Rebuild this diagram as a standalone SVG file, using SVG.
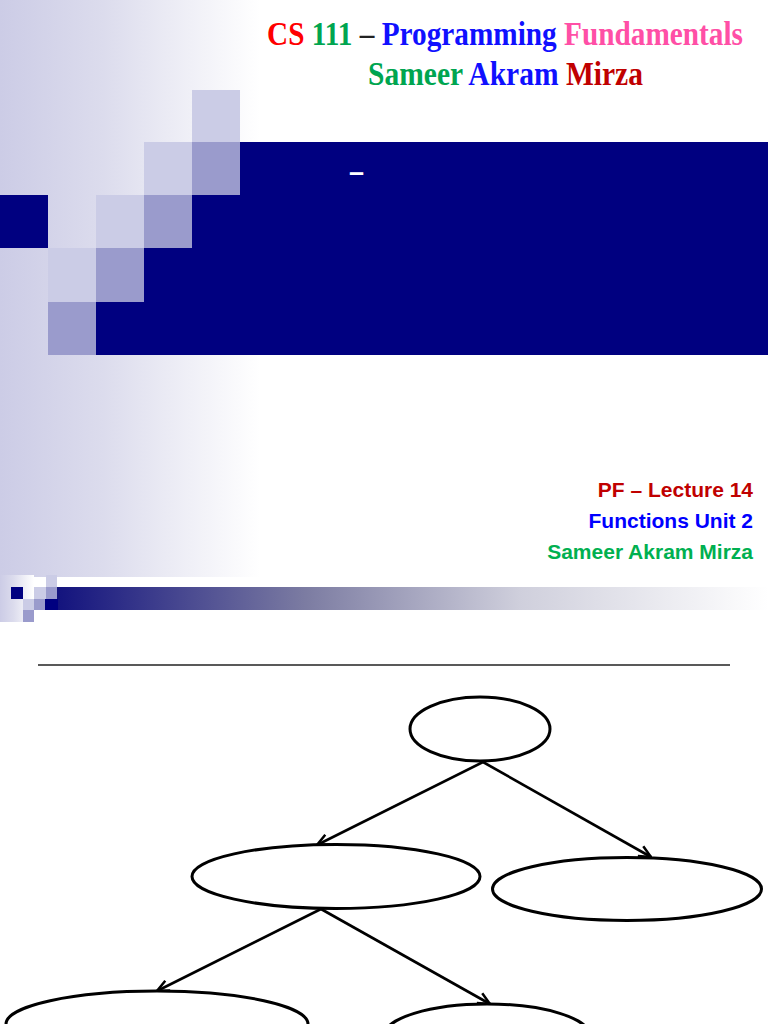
<svg xmlns="http://www.w3.org/2000/svg" width="768" height="1024" viewBox="0 0 768 1024">
<style>
.lt{fill:#cbcce6}
.md{fill:#9a9bcc}
.nv{fill:#000080}
.node{fill:#ffffff;stroke:#000000;stroke-width:3}
.edge{stroke:#000000;stroke-width:2.6;fill:none;marker-end:url(#arr)}
.title{font-family:"Liberation Serif","DejaVu Serif",serif;font-weight:bold;font-size:33px}
.info{font-family:"Liberation Sans",Arial,sans-serif;font-weight:bold;font-size:21px;text-anchor:end}
</style>
<defs>
<linearGradient id="bgL" x1="0" y1="0" x2="1" y2="0">
<stop offset="0" stop-color="#cccce6"/>
<stop offset="0.4" stop-color="#dcdced"/>
<stop offset="0.7" stop-color="#eeeef6"/>
<stop offset="1" stop-color="#ffffff"/>
</linearGradient>
<linearGradient id="bar" x1="0" y1="0" x2="1" y2="0">
<stop offset="0" stop-color="#13137e"/>
<stop offset="0.35" stop-color="#7c7ca2"/>
<stop offset="0.65" stop-color="#cfcfdc"/>
<stop offset="1" stop-color="#ffffff"/>
</linearGradient>
<marker id="arr" markerUnits="userSpaceOnUse" markerWidth="14" markerHeight="14" viewBox="0 0 14 14" refX="13" refY="7" orient="auto">
<path d="M1,1.5 L13,7 L1,12.5" fill="none" stroke="#000000" stroke-width="2.5"/>
</marker>
</defs>
<rect width="768" height="1024" fill="#ffffff"/>
<rect x="0" y="0" width="260" height="577" fill="url(#bgL)"/>
<!-- top pattern -->
<polygon class="nv" points="240,142 768,142 768,355 96,355 96,302 144,302 144,248 192,248 192,195 240,195"/>
<rect class="nv" x="0" y="195" width="48" height="53"/>
<rect class="lt" x="192" y="90" width="48" height="52"/>
<rect class="lt" x="144" y="142" width="48" height="53"/>
<rect class="lt" x="96" y="195" width="48" height="53"/>
<rect class="lt" x="48" y="248" width="48" height="54"/>
<rect class="md" x="192" y="142" width="48" height="53"/>
<rect class="md" x="144" y="195" width="48" height="53"/>
<rect class="md" x="96" y="248" width="48" height="54"/>
<rect class="md" x="48" y="302" width="48" height="53"/>
<text x="349" y="180.5" fill="#ffffff" font-family="Liberation Sans, Arial, sans-serif" font-weight="bold" font-size="27">–</text>
<!-- title -->
<text class="title" x="267" y="45" textLength="476" lengthAdjust="spacingAndGlyphs"><tspan fill="#ff0000">CS</tspan> <tspan fill="#00a550">111</tspan> <tspan fill="#222222">–</tspan> <tspan fill="#1010ff">Programming</tspan> <tspan fill="#ff4fa6">Fundamentals</tspan></text>
<text class="title" x="368" y="85" textLength="275" lengthAdjust="spacingAndGlyphs"><tspan fill="#00a550">Sameer</tspan> <tspan fill="#1010ff">Akram</tspan> <tspan fill="#c00000">Mirza</tspan></text>
<!-- info -->
<text class="info" x="753" y="497" fill="#c00000">PF – Lecture 14</text>
<text class="info" x="753" y="528" fill="#0000ff">Functions Unit 2</text>
<text class="info" x="753" y="559" fill="#00b050">Sameer Akram Mirza</text>
<!-- bottom bar -->
<rect x="0" y="575" width="34" height="47" fill="url(#bgL)"/>
<rect x="57" y="587" width="711" height="23" fill="url(#bar)"/>
<rect class="nv" x="45" y="599" width="13" height="11"/>
<rect class="lt" x="46" y="575" width="11" height="12"/>
<rect class="nv" x="11" y="587" width="12" height="12"/>
<rect class="lt" x="34" y="587" width="12" height="12"/>
<rect class="md" x="46" y="587" width="11" height="12"/>
<rect class="lt" x="23" y="599" width="11" height="11"/>
<rect class="md" x="34" y="599" width="11" height="11"/>
<rect class="md" x="23" y="610" width="11" height="12"/>
<line x1="38" y1="665" x2="730" y2="665" stroke="#222222" stroke-width="1.5"/>
<!-- connectors -->
<g id="connectors">
<line class="edge" x1="483" y1="762" x2="317" y2="845"/>
<line class="edge" x1="483" y1="762" x2="651" y2="857"/>
<line class="edge" x1="321" y1="909" x2="157" y2="991"/>
<line class="edge" x1="321" y1="909" x2="490" y2="1004"/>
</g>
<g id="root"><ellipse class="node" cx="480" cy="729" rx="70" ry="32"/></g>
<g id="left"><ellipse class="node" cx="336" cy="876.5" rx="144" ry="32"/></g>
<g id="right"><ellipse class="node" cx="627" cy="889" rx="134.5" ry="31.5"/></g>
<g id="bottom-left"><ellipse class="node" cx="157" cy="1024" rx="151" ry="33"/></g>
<g id="bottom-right"><ellipse class="node" cx="487" cy="1036" rx="103" ry="32"/></g>
</svg>
